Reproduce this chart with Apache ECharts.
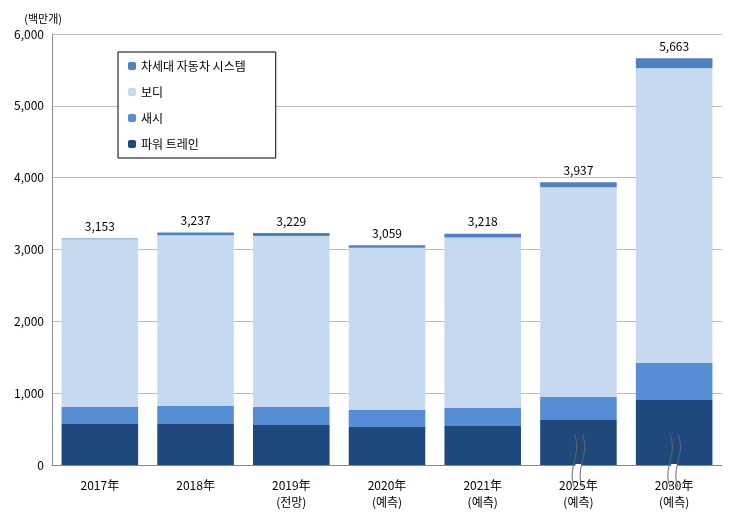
<!DOCTYPE html>
<html><head><meta charset="utf-8">
<script src="https://cdn.jsdelivr.net/npm/echarts@6/dist/echarts.min.js"></script>
<style>html,body{margin:0;background:#fff}#c{width:740px;height:523px}</style>
</head><body><div id="c"></div>
<script>
const categories = ['2017年','2018年','2019年\n(전망)','2020年\n(예측)','2021年\n(예측)','2025年\n(예측)','2030年\n(예측)'];
const totals = [3153,3237,3229,3059,3218,3937,5663];
const powertrain = [570,570,557,530,543,627,905];
const chassis = [240,250,250,236,250,320,515];
const nextgen = [10,40,40,35,50,70,140];
const body = totals.map((t,i)=>t-powertrain[i]-chassis[i]-nextgen[i]);
const yTicks = [0,1000,2000,3000,4000,5000,6000];
const font = '"Noto Sans CJK KR", sans-serif';
const chart = echarts.init(document.getElementById('c'));
const mk = (name,data,color)=>({name,type:'bar',stack:'s',data,barWidth:'80%',itemStyle:{color},emphasis:{disabled:true}});
chart.setOption({
  animation:false,
  textStyle:{fontFamily:font},
  grid:{left:52,right:18,top:34,bottom:58},
  legend:{left:118,top:52,orient:'vertical',itemWidth:8,itemHeight:8,itemGap:14,
    borderColor:'#000',borderWidth:1,padding:[8,30,8,10],backgroundColor:'#fff',
    textStyle:{fontSize:12,color:'#000',fontFamily:font},
    data:['차세대 자동차 시스템','보디','새시','파워 트레인']},
  xAxis:{type:'category',data:categories,axisTick:{show:false},
    axisLine:{lineStyle:{color:'#888'}},
    axisLabel:{color:'#000',fontSize:12,lineHeight:17,margin:12}},
  yAxis:{type:'value',min:0,max:6000,interval:1000,name:'(백만개)',
    nameTextStyle:{color:'#000',fontSize:11,align:'right',padding:[0,-10,0,0]},nameGap:10,
    axisLine:{show:true,lineStyle:{color:'#888'}},
    splitLine:{lineStyle:{color:'#bbb'}},
    axisLabel:{color:'#000',fontSize:12,formatter:v=>yTicks.includes(v)?v.toLocaleString('en-US'):''}},
  series:[
    mk('파워 트레인',powertrain,'#1f497d'),
    mk('새시',chassis,'#558ed5'),
    mk('보디',body,'#c6d9f1'),
    Object.assign(mk('차세대 자동차 시스템',nextgen,'#4f81bd'),{
      label:{show:true,position:'top',distance:6,color:'#000',fontSize:12,
        formatter:p=>totals[p.dataIndex].toLocaleString('en-US')}})
  ]
});
// break marks
const g=[];
[4.5,5.5].forEach(x=>{
  const p=chart.convertToPixel({xAxisIndex:0,yAxisIndex:0},[x,0]);
  [-4,4].forEach(dx=>{
    const cx=p[0]+dx, y0=p[1]-30, y1=p[1]+22;
    g.push({type:'bezierCurve',shape:{x1:cx,y1:y0,x2:cx,y2:y1,cpx1:cx+8,cpy1:y0+18,cpx2:cx-8,cpy2:y1-18},
      style:{stroke:'#666',lineWidth:1,fill:null},z:100});
  });
  g.push({type:'rect',shape:{x:p[0]-3,y:p[1]-1,width:6,height:3},style:{fill:'#fff'},z:99});
});
chart.setOption({graphic:g});
</script></body></html>
